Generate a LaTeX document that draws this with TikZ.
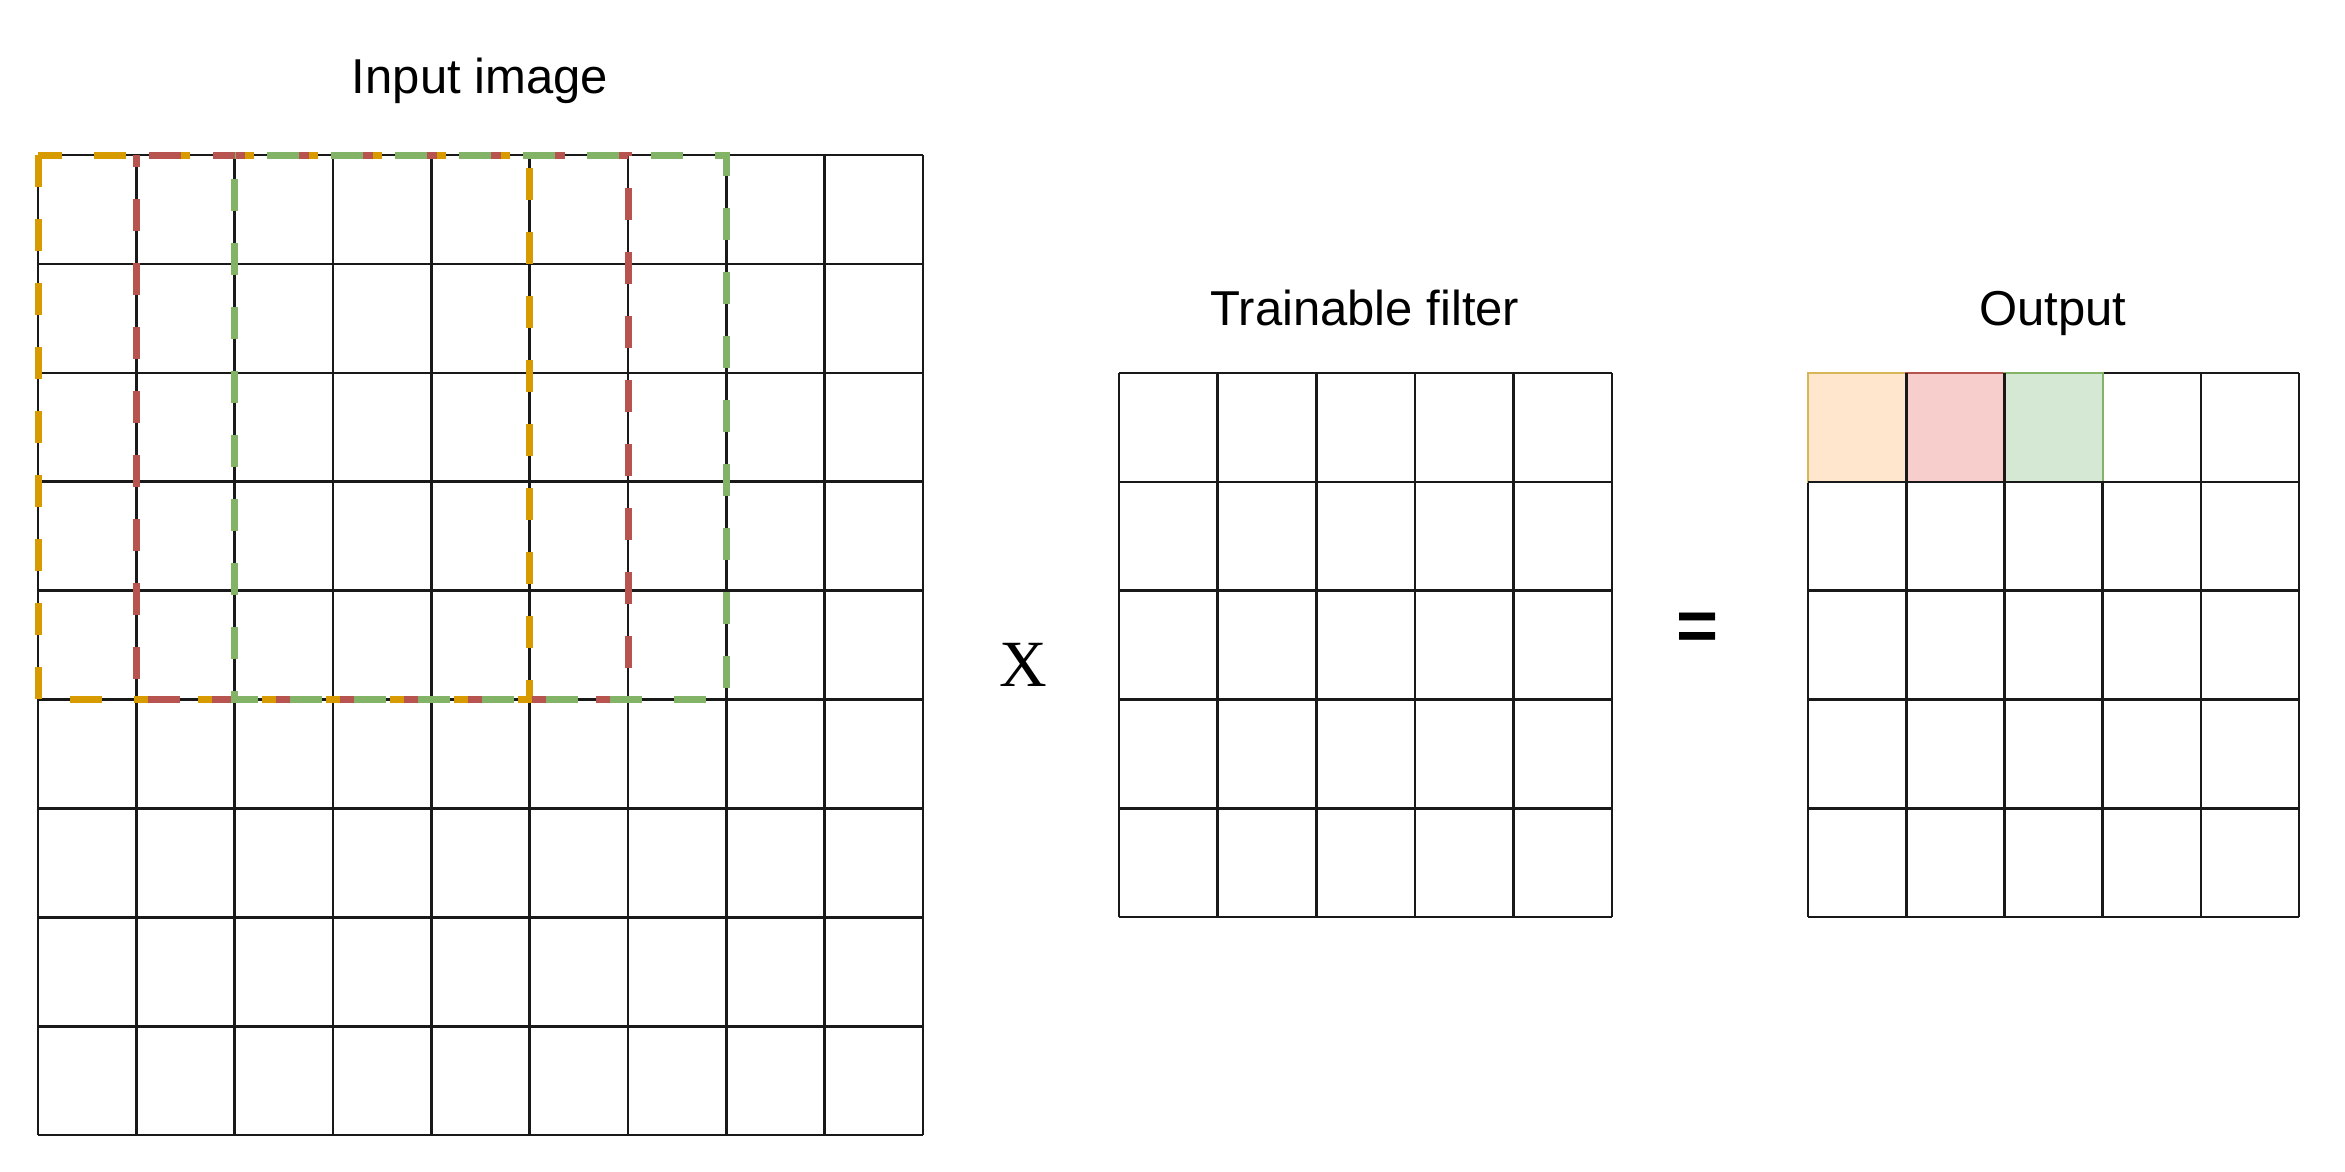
\documentclass[tikz,border=0pt]{standalone}
\usepackage{fontspec}
\setmainfont{Liberation Sans}
\newfontfamily\serifX{Liberation Serif}
\definecolor{orst}{HTML}{D79B00}
\definecolor{rdst}{HTML}{B85450}
\definecolor{grst}{HTML}{82B366}
\definecolor{orfill}{HTML}{FFE6CC}
\definecolor{rdfill}{HTML}{F8CECC}
\definecolor{grfill}{HTML}{D5E8D4}
\definecolor{yelst}{HTML}{D6B656}
\tikzset{
  gridline/.style={draw=black!90, line width=2.6pt},
  window/.style={line width=7pt, dash pattern=on 32pt off 32pt},
  label/.style={anchor=base, font=\fontsize{49}{56}\selectfont, inner sep=0pt},
}
\begin{document}
\begin{tikzpicture}[x=1pt,y=-1pt]
\useasboundingbox (0,0) rectangle (2345,1171);
% input image grid 9x9
\foreach \i in {0,...,9} {
  \draw[gridline] (38+\i*98.33,155) -- (38+\i*98.33,1135);
  \draw[gridline] (38,155+\i*108.9) -- (923,155+\i*108.9);
}
% sliding windows
\draw[window, draw=orst] (38,155) rectangle (529.7,699.5);
\draw[window, draw=rdst, dash phase=20pt] (136.3,155) rectangle (628,699.5);
\draw[window, draw=grst, dash phase=40pt] (234.7,155) rectangle (726.3,699.5);
% trainable filter 5x5
\foreach \i in {0,...,5} {
  \draw[gridline] (1119+\i*98.6,373) -- (1119+\i*98.6,917);
  \draw[gridline] (1119,373+\i*108.8) -- (1612,373+\i*108.8);
}
% output 5x5
\foreach \i in {0,...,5} {
  \draw[gridline] (1808+\i*98.2,373) -- (1808+\i*98.2,917);
  \draw[gridline] (1808,373+\i*108.8) -- (2299,373+\i*108.8);
}
\draw[fill=orfill, draw=yelst, line width=2pt] (1808,373) rectangle (1906.2,481.8);
\draw[fill=rdfill, draw=rdst, line width=2pt] (1906.2,373) rectangle (2004.4,481.8);
\draw[fill=grfill, draw=grst, line width=2pt] (2004.4,373) rectangle (2102.6,481.8);
\draw[gridline] (1906.2,373) -- (1906.2,481.8);
\draw[gridline] (2004.4,373) -- (2004.4,481.8);
\draw[gridline] (1808,481.8) -- (2299,481.8);
% labels
\node[label] (inlabel) at (480,93) {Input image};
\node[label] (filtlabel) at (1365,325) {Trainable filter};
\node[label] (outlabel) at (2053,325) {Output};
\node[font=\serifX\fontsize{66}{70}\selectfont, inner sep=0pt] (times) at (1023,665) {X};
\node[font=\bfseries\fontsize{72}{76}\selectfont, inner sep=0pt] (equals) at (1698,632) {=};
\end{tikzpicture}
\end{document}
